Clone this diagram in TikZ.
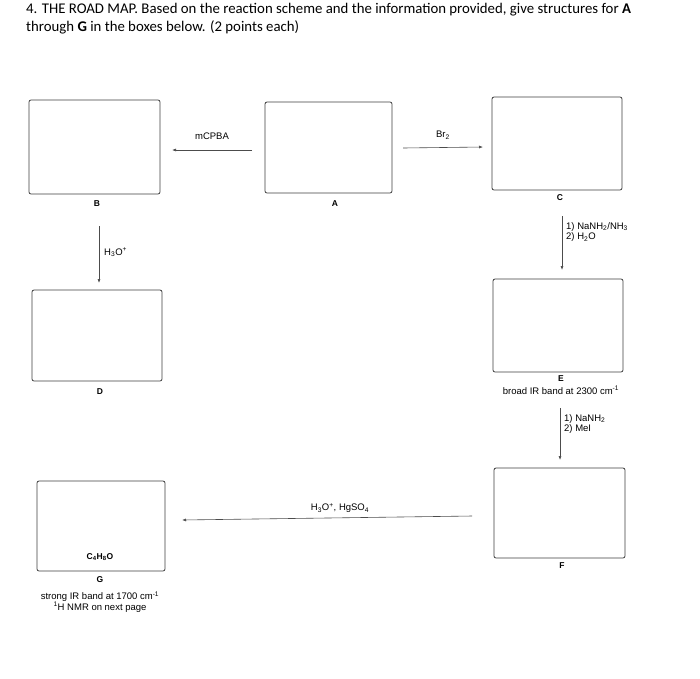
\documentclass[tikz,border=0pt]{standalone}
\usepackage{fontspec}
\setmainfont{Liberation Sans}
\newfontfamily\titlefont{Carlito}
\usetikzlibrary{arrows.meta}
\newcommand{\sbs}[1]{\textsubscript{#1}}
\newcommand{\sps}[1]{\textsuperscript{#1}}
\begin{document}
\begin{tikzpicture}[x=1pt,y=-1pt,
  box/.style={draw=black!75,line width=0.8pt,rounded corners=2pt},
  lbl/.style={font=\fontsize{8.5}{10}\selectfont\bfseries, inner sep=0pt},
  rx/.style={font=\fontsize{9.5}{10.5}\selectfont, inner sep=0pt, align=left},
  arr/.style={draw=black!70,line width=0.6pt,-{Latex[length=4pt,width=3pt]}}]
\useasboundingbox[fill=white] (0,0) rectangle (700,678);
\node[anchor=north west,align=left,font=\titlefont\fontsize{14.8}{18}\selectfont,inner sep=0pt] (title) at (26,3)
 {4. THE ROAD MAP. Based on the reaction scheme and the information provided, give structures for \textbf{A}\\
 through \textbf{G} in the boxes below. (2 points each)};
\node[box,minimum width=131pt,minimum height=94pt] (B) at (94.5,147) {};
\node[box,minimum width=127pt,minimum height=91pt] (A) at (328.5,147.5) {};
\node[box,minimum width=130pt,minimum height=93pt] (C) at (557,143.5) {};
\node[box,minimum width=130pt,minimum height=91pt] (D) at (97,335.5) {};
\node[box,minimum width=130pt,minimum height=93pt] (E) at (558,325.5) {};
\node[box,minimum width=131pt,minimum height=90pt] (F) at (559.5,513) {};
\node[box,minimum width=128pt,minimum height=90pt] (G) at (101,526) {};
\node[lbl] (lB) at (97,204) {B};
\node[lbl] (lA) at (335,204) {A};
\node[lbl] (lC) at (560,198) {C};
\node[lbl] (lD) at (100,392) {D};
\node[lbl] (lE) at (561,379) {E};
\node[rx] (irE) at (561,390) {broad IR band at 2300 cm\sps{-1}};
\node[lbl] (lF) at (562,566) {F};
\node[lbl] (c4) at (100,557) {C\sbs{4}H\sbs{8}O};
\node[lbl] (lG) at (100,580) {G};
\node[rx,align=center] (irG) at (100,602) {strong IR band at 1700 cm\sps{-1}\\\sps{1}H NMR on next page};
\coordinate (m1) at (252,150); \coordinate (m2) at (172,150);
\draw[arr] (m1) -- (m2) node[rx,midway,above=10pt] (tm) {mCPBA};
\coordinate (b1) at (403,148); \coordinate (b2) at (483,147);
\draw[arr] (b1) -- (b2) node[rx,midway,above=8pt] (tb) {Br\sbs{2}};
\coordinate (h1) at (99,226); \coordinate (h2) at (99,283);
\draw[arr] (h1) -- (h2);
\node[rx,anchor=west] (th) at (104,252) {H\sbs{3}O\sps{+}};
\coordinate (c1) at (562,216); \coordinate (c2) at (562,270);
\draw[arr] (c1) -- (c2);
\node[rx,anchor=north west] (tc) at (566,222) {1) NaNH\sbs{2}/NH\sbs{3}\\2) H\sbs{2}O};
\coordinate (e1) at (560,408); \coordinate (e2) at (560,460);
\draw[arr] (e1) -- (e2);
\node[rx,anchor=north west] (te) at (564,414) {1) NaNH\sbs{2}\\2) MeI};
\coordinate (g1) at (472,516); \coordinate (g2) at (182,520);
\draw[arr] (g1) -- (g2);
\node[rx] (tg) at (340,508) {H\sbs{3}O\sps{+}, HgSO\sbs{4}};
\end{tikzpicture}
\end{document}
